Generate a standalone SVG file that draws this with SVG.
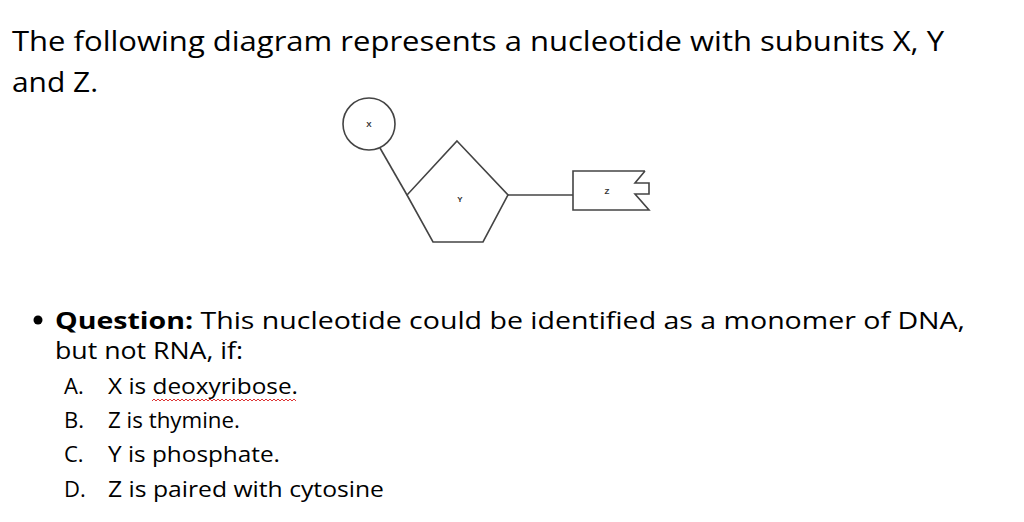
<svg xmlns="http://www.w3.org/2000/svg" width="1024" height="522" viewBox="0 0 1024 522">
<style>
.t{font-family:"Open Sans","Liberation Sans",sans-serif;fill:#000}
.s{fill:none;stroke:#444;stroke-width:1.6}
.l{font-family:"Liberation Sans",sans-serif;font-size:8px;font-weight:bold;fill:#333;text-anchor:middle}
</style>
<rect width="1024" height="522" fill="#fff"/>
<text class="t" x="12" y="51" font-size="27" textLength="932" lengthAdjust="spacingAndGlyphs">The following diagram represents a nucleotide with subunits X, Y</text>
<text class="t" x="12" y="92" font-size="27" textLength="86" lengthAdjust="spacingAndGlyphs">and Z.</text>
<g id="connectors">
<line class="s" x1="380" y1="148" x2="407" y2="195"/>
<line class="s" x1="508" y1="195" x2="573" y2="195"/>
</g>
<g id="X"><circle class="s" cx="369" cy="124" r="26"/><text class="l" x="369" y="127">X</text></g>
<g id="Y"><polygon class="s" points="457,141 508,195 483,242 433,242 407,195"/><text class="l" x="460" y="202">Y</text></g>
<g id="Z"><polyline class="s" points="645,171 573,171 573,210 649,210 635,194 649,194 649,183 635,183 645,171"/><text class="l" x="607" y="194">Z</text></g>
<circle cx="38" cy="320" r="4.5" fill="#000"/>
<text class="t" x="55" y="329" font-size="24" textLength="910" lengthAdjust="spacingAndGlyphs"><tspan font-weight="bold">Question:</tspan> This nucleotide could be identified as a monomer of DNA,</text>
<text class="t" x="55" y="359" font-size="24" textLength="188" lengthAdjust="spacingAndGlyphs">but not RNA, if:</text>
<g class="t" font-size="22">
<text x="64" y="394">A.</text><text x="108" y="394" textLength="190" lengthAdjust="spacingAndGlyphs">X is deoxyribose.</text>
<text x="64" y="428">B.</text><text x="108" y="428" textLength="132" lengthAdjust="spacingAndGlyphs">Z is thymine.</text>
<text x="64" y="462">C.</text><text x="108" y="462" textLength="172" lengthAdjust="spacingAndGlyphs">Y is phosphate.</text>
<text x="64" y="497">D.</text><text x="108" y="497" textLength="276" lengthAdjust="spacingAndGlyphs">Z is paired with cytosine</text>
</g>
<path d="M152,401 l2,-2 l2,2 l2,-2 l2,2 l2,-2 l2,2 l2,-2 l2,2 l2,-2 l2,2 l2,-2 l2,2 l2,-2 l2,2 l2,-2 l2,2 l2,-2 l2,2 l2,-2 l2,2 l2,-2 l2,2 l2,-2 l2,2 l2,-2 l2,2 l2,-2 l2,2 l2,-2 l2,2 l2,-2 l2,2 l2,-2 l2,2 l2,-2 l2,2 l2,-2 l2,2 l2,-2 l2,2 l2,-2 l2,2 l2,-2 l2,2 l2,-2 l2,2 l2,-2 l2,2 l2,-2 l2,2 l2,-2 l2,2 l2,-2 l2,2 l2,-2 l2,2 l2,-2 l2,2 l2,-2 l2,2 l2,-2 l2,2 l2,-2 l2,2 l2,-2 l2,2 l2,-2 l2,2 l2,-2 l2,2 l2,-2 l2,2" fill="none" stroke="#d33" stroke-width="1"/>
</svg>
